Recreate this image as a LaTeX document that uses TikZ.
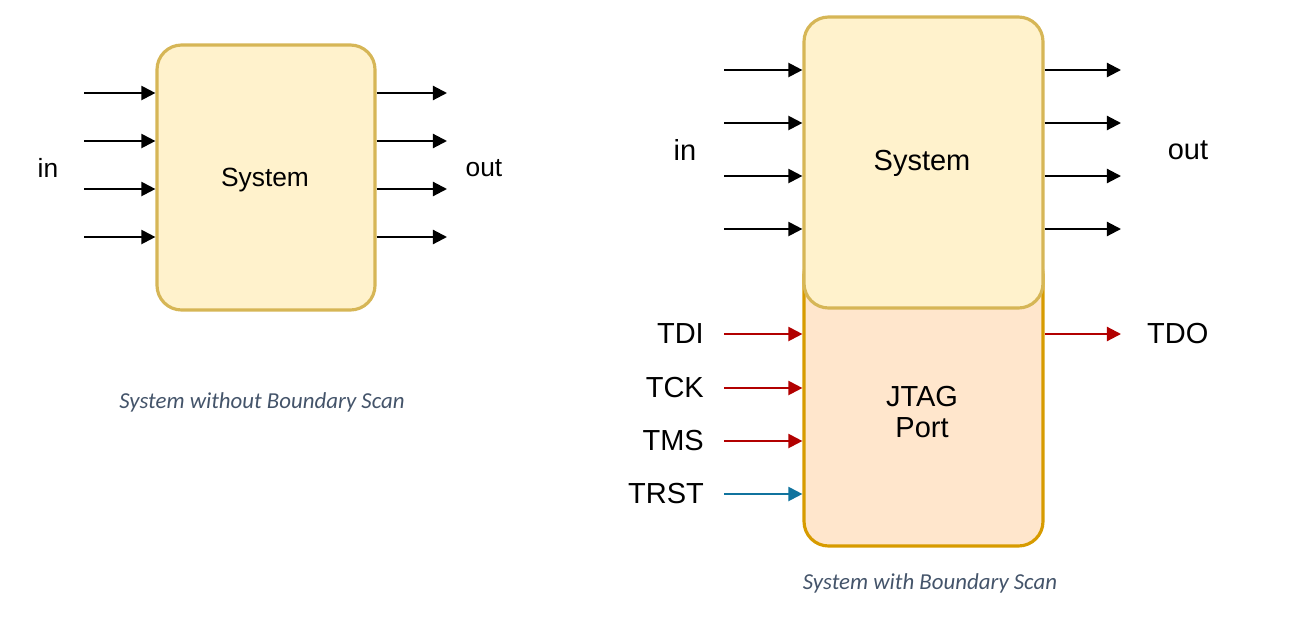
\documentclass[tikz,border=0pt]{standalone}
\usepackage{fontspec}
\setmainfont{Liberation Sans}
\newfontfamily\capfont{Carlito}
\usetikzlibrary{arrows.meta}
\definecolor{sysfill}{HTML}{FFF2CC}
\definecolor{sysline}{HTML}{D6B656}
\definecolor{jtagfill}{HTML}{FFE6CC}
\definecolor{jtagline}{HTML}{D79B00}
\definecolor{sigred}{HTML}{B20000}
\definecolor{sigblue}{HTML}{10739E}
\definecolor{capcol}{HTML}{44546A}
\tikzset{
  box/.style={draw, line width=1.8pt, rounded corners=14pt, inner sep=0pt},
  sig/.style={-{Triangle[length=8pt,width=8pt]}, line width=1.2pt},
  lbl/.style={font=\fontsize{15}{18}\selectfont},
  caption/.style={font=\capfont\itshape\fontsize{13}{16}\selectfont, text=capcol}
}
\begin{document}
\begin{tikzpicture}[x=0.02cm,y=-0.02cm]
  \useasboundingbox (0,0) rectangle (1301,619);
  % left: plain system
  \node (ls) [box, fill=sysfill, draw=sysline, minimum width=218*0.02cm, minimum height=265*0.02cm]
    at (266,177.5) {};
  \node (lst) [lbl] at (265,180) {System};
  \foreach \y [count=\i] in {93,141,189,237} {
    \coordinate (li\i) at (84,\y);
    \coordinate (lo\i) at (447,\y);
    \draw[sig] (li\i) -- (ls.west |- li\i);
    \draw[sig] (ls.east |- lo\i) -- (lo\i);
  }
  \node (lin) [lbl] at (48,168) {in};
  \node (lout) [lbl] at (484,168) {out};
  \node (lcap) [caption] at (262,402) {System without Boundary Scan};

  % right: system with JTAG port
  \node (jt) [box, fill=jtagfill, draw=jtagline, minimum width=239*0.02cm, minimum height=296*0.02cm]
    at (923.5,398) {};
  \node (rs) [box, fill=sysfill, draw=sysline, minimum width=239*0.02cm, minimum height=291*0.02cm]
    at (923.5,162.5) {};
  \node (rst) [lbl, font=\fontsize{16.5}{20}\selectfont] at (922,163) {System};
  \node (jtt) [lbl, font=\fontsize{16.5}{20}\selectfont, align=center] at (922,412) {JTAG\\[-2pt]Port};
  \foreach \y [count=\i] in {70,123,176,229} {
    \coordinate (ri\i) at (724,\y);
    \coordinate (ro\i) at (1121,\y);
    \draw[sig] (ri\i) -- (rs.west |- ri\i);
    \draw[sig] (rs.east |- ro\i) -- (ro\i);
  }
  \node (rin) [lbl, font=\fontsize{16.5}{20}\selectfont] at (685,150) {in};
  \node (rout) [lbl, font=\fontsize{16.5}{20}\selectfont] at (1188,150) {out};
  \foreach \y/\t/\c in {334/TDI/sigred, 388/TCK/sigred, 441/TMS/sigred, 494/TRST/sigblue} {
    \node (n\t) [lbl, font=\fontsize{16.5}{20}\selectfont, anchor=east] at (710,\y) {\t};
    \coordinate (c\t) at (724,\y);
    \draw[sig, draw=\c] (c\t) -- (jt.west |- c\t);
  }
  \coordinate (cTDO) at (1121,334);
  \draw[sig, draw=sigred] (jt.east |- cTDO) -- (cTDO);
  \node (nTDO) [lbl, font=\fontsize{16.5}{20}\selectfont, anchor=west] at (1141,334) {TDO};
  \node (rcap) [caption] at (930,583) {System with Boundary Scan};
\end{tikzpicture}
\end{document}
